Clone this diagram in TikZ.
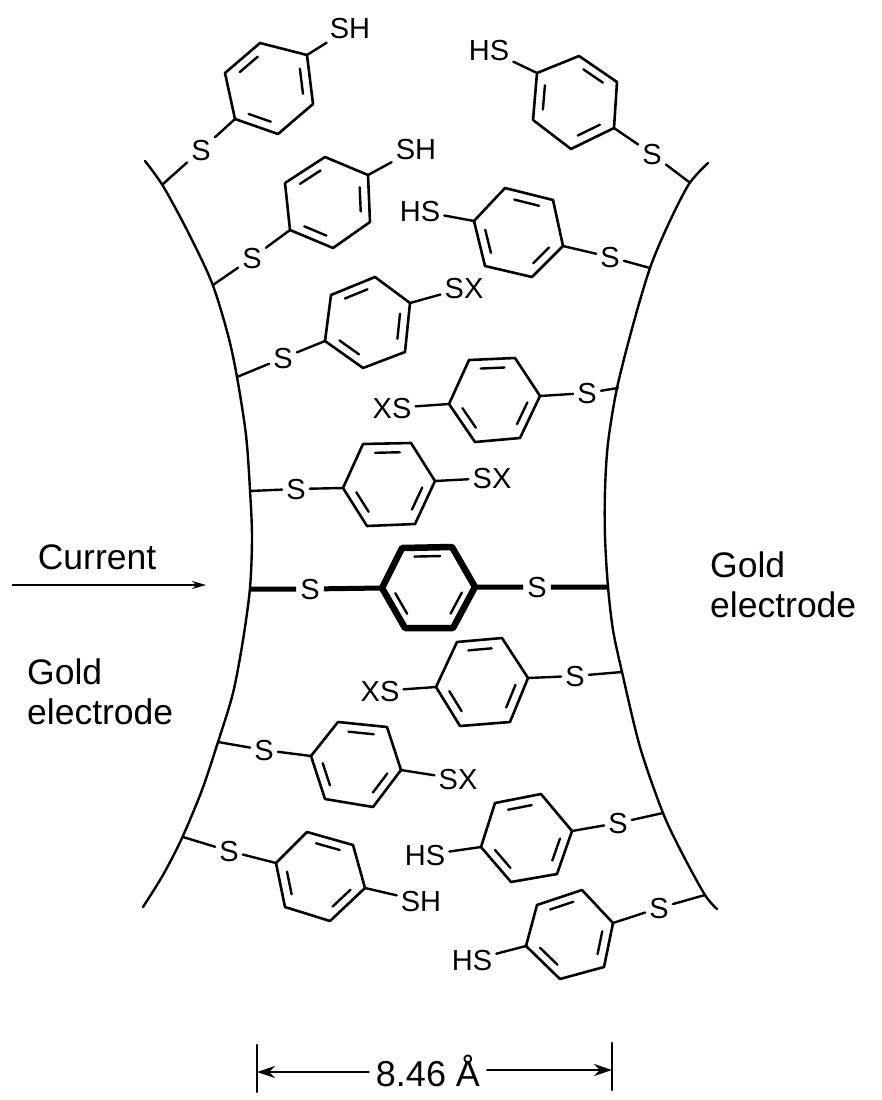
\documentclass[tikz,border=0pt]{standalone}
\usepackage{fontspec}
\setmainfont{Liberation Sans}
\usetikzlibrary{arrows.meta,calc}
% name, six vertices (v0 right attachment, anticlockwise on the page), style
\newcommand\benz[8]{%
  \coordinate (#1-0) at (#2);\coordinate (#1-1) at (#3);\coordinate (#1-2) at (#4);
  \coordinate (#1-3) at (#5);\coordinate (#1-4) at (#6);\coordinate (#1-5) at (#7);
  \coordinate (#1-c) at ($(#1-0)!.5!(#1-3)$);
  \draw[#8] (#1-0)--(#1-1)--(#1-2)--(#1-3)--(#1-4)--(#1-5)--cycle;
  \innerbond{#1}{1}{2}\innerbond{#1}{3}{4}\innerbond{#1}{5}{0}}
\newcommand\innerbond[3]{%
  \draw[bond] ($($(#1-#2)!.17!(#1-#3)$)!.22!(#1-c)$) -- ($($(#1-#2)!.83!(#1-#3)$)!.22!(#1-c)$);}
\tikzset{
  bond/.style={line width=2.4pt,line cap=round,line join=round},
  boldbond/.style={line width=5pt,line join=round},
  ringline/.style={line width=2.6pt,line join=round},
  boldring/.style={line width=6.5pt,line join=round},
  atom/.style={font=\fontsize{29}{32}\selectfont,text height=21pt,text depth=0pt,inner sep=4pt},
  lab/.style={font=\fontsize{35.5}{40}\selectfont,align=left,inner sep=0pt,anchor=north west},
}
\begin{document}
\begin{tikzpicture}[x=1pt,y=-1pt]
\useasboundingbox (0,0) rectangle (881,1100);
\fill[white] (0,0) rectangle (881,1100);
% electrodes
\draw[bond] plot[smooth,tension=.5] coordinates {(145,161) (163,186) (188,232) (212,283) (228,335) (237,377) (246,435) (250,490) (252,537) (250,588) (243,640) (233,693) (218,742) (202,790) (182,838) (163,875) (143,907)};
\draw[bond] plot[smooth,tension=.5] coordinates {(708,163) (689,184) (668,225) (650,268) (633,325) (617,388) (608,443) (605,490) (605,537) (608,587) (613,630) (622,672) (640,747) (663,813) (683,855) (705,895) (717,909)};
% rings
\benz{r1}{307,55}{260,43}{225,73}{235,119}{278,134}{313,104}{ringline}
\benz{r2}{368,175}{325,157}{285,183}{290,230}{333,248}{370,222}{ringline}
\benz{r3}{410,303}{375,277}{331,295}{325,341}{363,368}{405,352}{ringline}
\benz{r4}{540,396}{515,358}{469,360}{449,404}{475,442}{520,438}{ringline}
\benz{r5}{435,481}{411,443}{363,444}{343,488}{367,526}{415,524}{ringline}
\benz{r6}{475,587}{452,547}{402,548}{382,588}{405,628}{453,628}{boldring}
\benz{r7}{528,678}{502,638}{457,642}{436,687}{460,726}{510,722}{ringline}
\benz{r8}{401,770}{387,727}{338,722}{311,756}{325,799}{373,807}{ringline}
\benz{r9}{365,888}{353,845}{307,832}{276,863}{285,907}{330,921}{ringline}
\benz{r10}{614,128}{617,82}{579,56}{537,73}{533,120}{571,149}{ringline}
\benz{r11}{563,246}{553,200}{505,188}{474,221}{485,266}{532,277}{ringline}
\benz{r12}{572,831}{541,794}{495,803}{481,847}{511,882}{557,874}{ringline}
\benz{r13}{613,923}{582,890}{537,905}{526,946}{560,979}{604,967}{ringline}
% atoms
\node[atom] (s1) at (201,150) {S};
\node[atom] (t1) at (350,28) {SH};
\node[atom] (s2) at (252,258) {S};
\node[atom] (t2) at (416,149) {SH};
\node[atom] (s3) at (283,358) {S};
\node[atom] (t3) at (464,288) {SX};
\node[atom] (t4) at (392,408) {XS};
\node[atom] (s4) at (587,393) {S};
\node[atom] (s5) at (296,489) {S};
\node[atom] (t5) at (492,478) {SX};
\node[atom] (s6) at (310,589) {S};
\node[atom] (u6) at (537,587) {S};
\node[atom] (t7) at (380,691) {XS};
\node[atom] (s7) at (575,676) {S};
\node[atom] (s8) at (264,750) {S};
\node[atom] (t8) at (458,779) {SX};
\node[atom] (s9) at (229,851) {S};
\node[atom] (t9) at (421,901) {SH};
\node[atom] (t10) at (489,50) {HS};
\node[atom] (s10) at (652,154) {S};
\node[atom] (t11) at (420,211) {HS};
\node[atom] (s11) at (610,257) {S};
\node[atom] (t12) at (425,855) {HS};
\node[atom] (s12) at (618,823) {S};
\node[atom] (t13) at (472,960) {HS};
\node[atom] (s13) at (659,908) {S};
% anchors on electrodes
\coordinate (e1) at (163,184);
\coordinate (e2) at (213,285);
\coordinate (e3) at (237,377);
\coordinate (e4) at (618,388);
\coordinate (e5) at (250,491);
\coordinate (e6) at (249,589);
\coordinate (f6) at (609,587);
\coordinate (e7) at (622,672);
\coordinate (e8) at (218,742);
\coordinate (e9) at (183,837);
\coordinate (e10) at (689,182);
\coordinate (e11) at (650,268);
\coordinate (e12) at (663,813);
\coordinate (e13) at (705,895);
% connectors
\draw[bond] (e1)--(s1) (s1)--(r1-3) (r1-0)--(t1);
\draw[bond] (e2)--(s2) (s2)--(r2-3) (r2-0)--(t2);
\draw[bond] (e3)--(s3) (s3)--(r3-3) (r3-0)--(t3);
\draw[bond] (t4)--(r4-3) (r4-0)--(s4) (s4)--(e4);
\draw[bond] (e5)--(s5) (s5)--(r5-3) (r5-0)--(t5);
\draw[boldbond] (e6)--(s6) (s6)--(r6-3) (r6-0)--(u6) (u6)--(f6);
\draw[bond] (t7)--(r7-3) (r7-0)--(s7) (s7)--(e7);
\draw[bond] (e8)--(s8) (s8)--(r8-3) (r8-0)--(t8);
\draw[bond] (e9)--(s9) (s9)--(r9-3) (r9-0)--(t9);
\draw[bond] (t10)--(r10-3) (r10-0)--(s10) (s10)--(e10);
\draw[bond] (t11)--(r11-3) (r11-0)--(s11) (s11)--(e11);
\draw[bond] (t12)--(r12-3) (r12-0)--(s12) (s12)--(e12);
\draw[bond] (t13)--(r13-3) (r13-0)--(s13) (s13)--(e13);
% labels
\node[font=\fontsize{35.5}{40}\selectfont,inner sep=0pt] (cur) at (97,557) {Current};
\coordinate (c0) at (12,585);
\coordinate (c1) at (206,585);
\draw[line width=1.8pt,-{Stealth[length=14pt,width=8pt]}] (c0)--(c1);
\node[lab] (gl) at (27,659) {Gold\\electrode};
\node[lab] (gr) at (710,552) {Gold\\electrode};
% dimension
\node[font=\fontsize{36}{40}\selectfont,inner sep=7pt,text height=25pt,text depth=0pt] (dim) at (428,1074) {8.46 Å};
\coordinate (bl) at (257,1072);
\coordinate (br) at (612,1070);
\draw[bond] (257,1045)--(bl)--(257,1092);
\draw[bond] (612,1043)--(br)--(612,1090);
\draw[bond,-{Stealth[length=18pt,width=12pt]}] (dim.west|-bl)--(bl);
\draw[bond,-{Stealth[length=18pt,width=12pt]}] (dim.east|-br)--(br);
\end{tikzpicture}
\end{document}
